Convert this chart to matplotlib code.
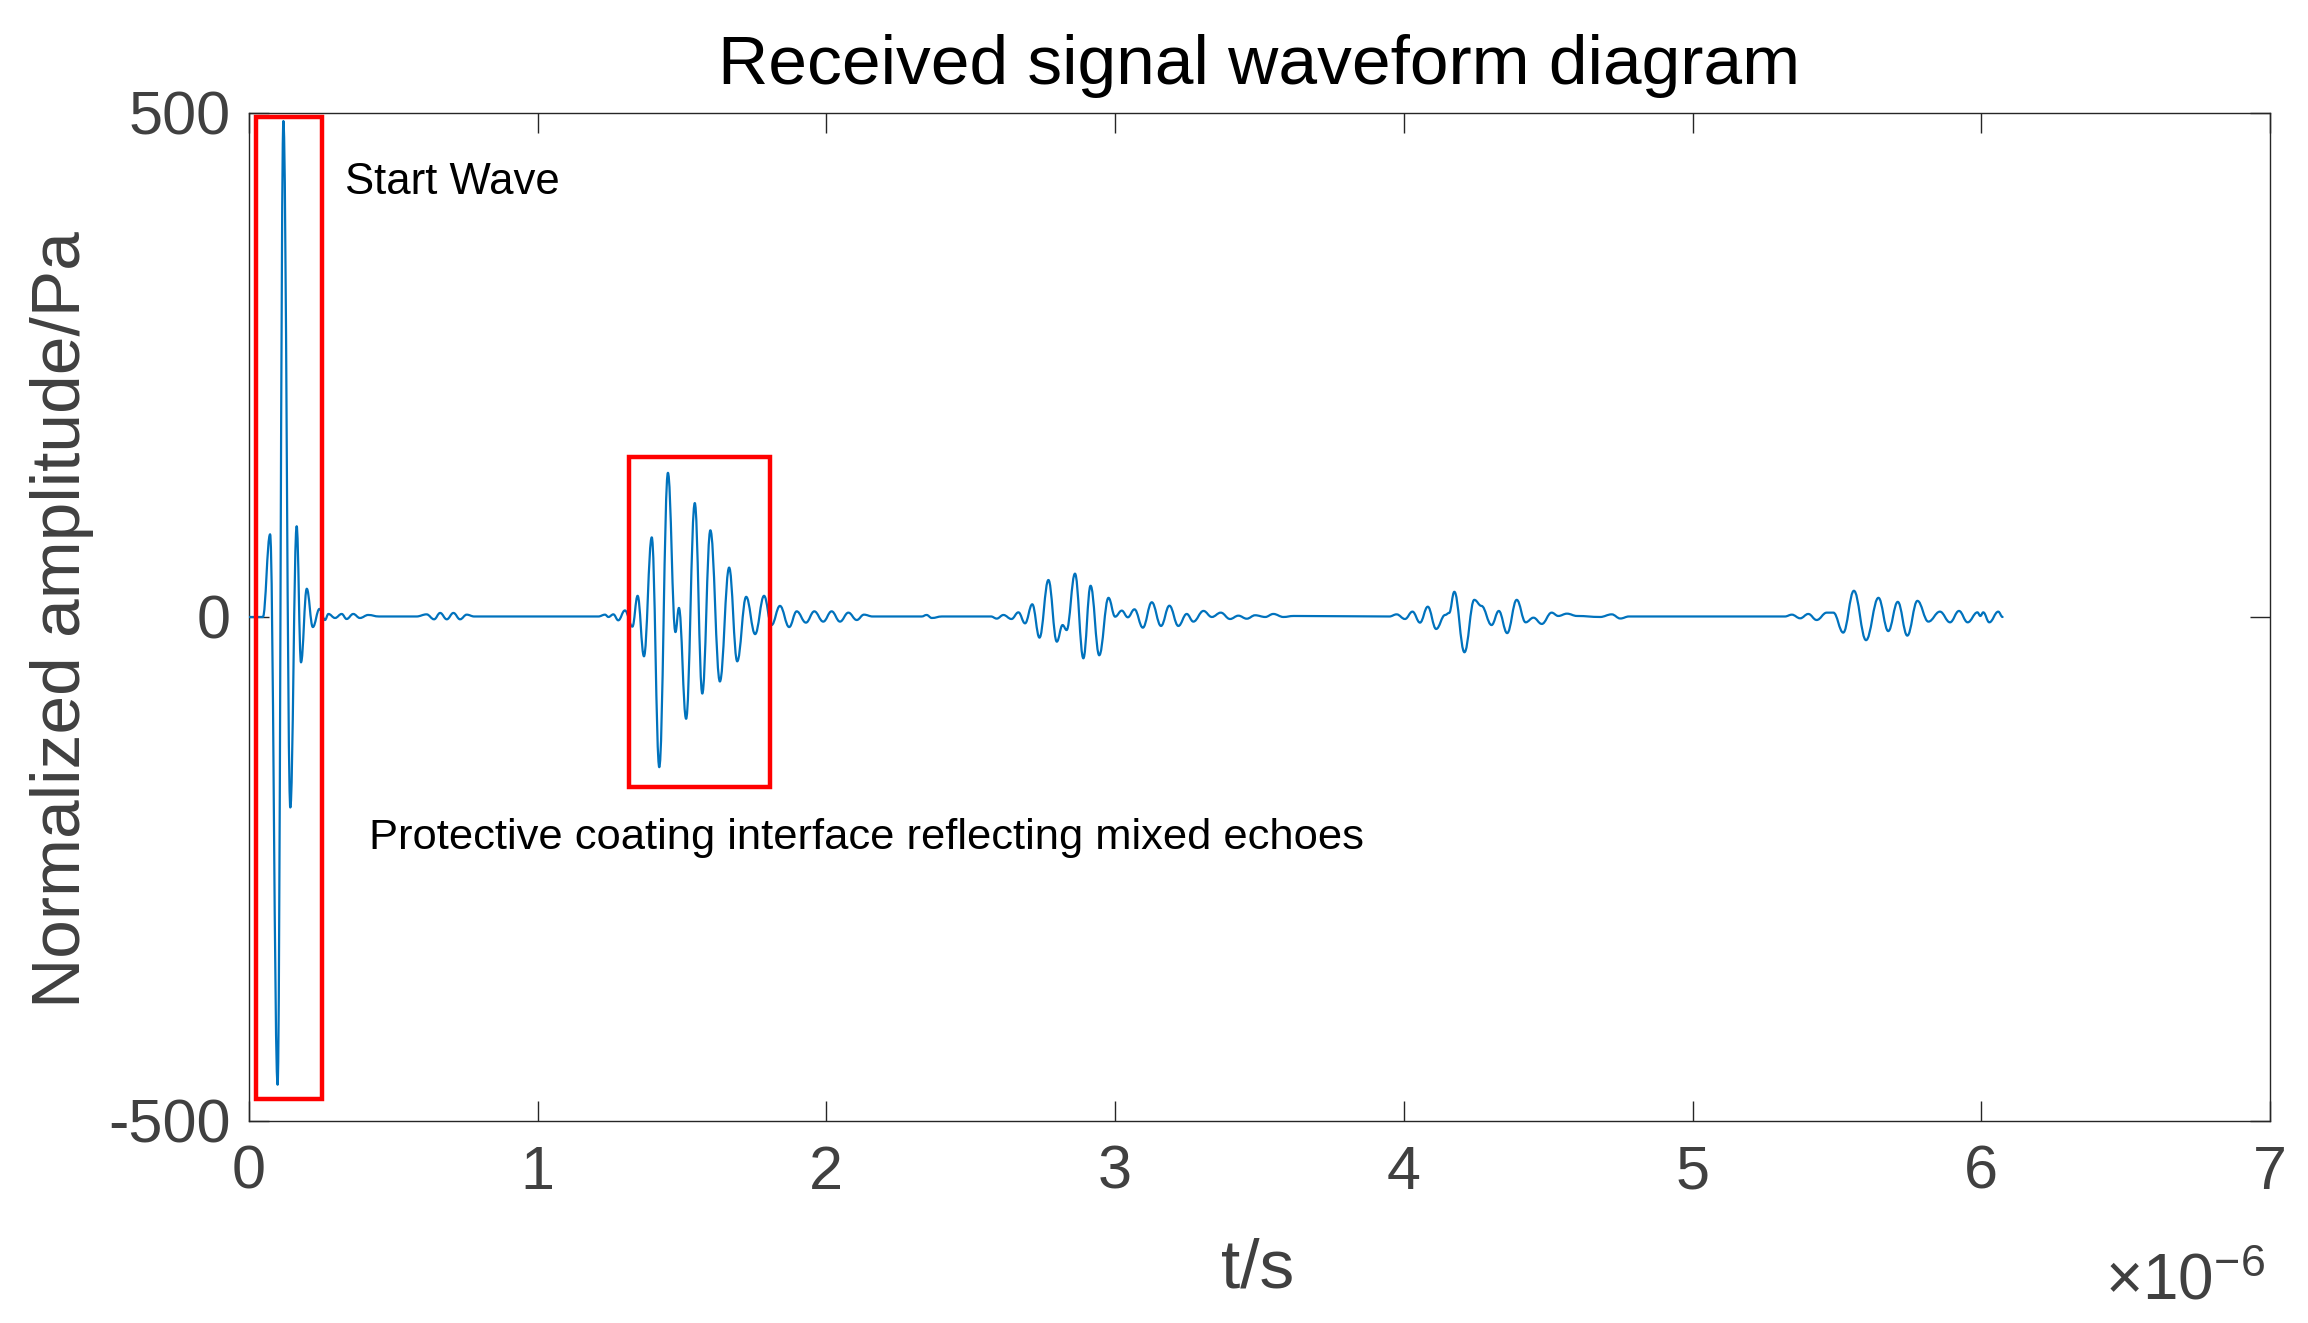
import numpy as np
import matplotlib
matplotlib.use("Agg")
import matplotlib.pyplot as plt
from matplotlib.patches import Rectangle, PathPatch
from matplotlib.path import Path

plt.rcParams["font.family"] = ["Liberation Sans", "DejaVu Sans"]
plt.rcParams["mathtext.fontset"] = "custom"
plt.rcParams["mathtext.rm"] = "Liberation Sans"
plt.rcParams["mathtext.it"] = "Liberation Sans"

# waveform extrema (time in microseconds, amplitude in Pa)
t_us = [
    0.000, 0.048, 0.073, 0.099, 0.119, 0.143, 0.165, 0.180, 0.200, 0.221,
    0.244, 0.263, 0.275, 0.298, 0.321, 0.338, 0.361, 0.384, 0.413, 0.450,
    0.580, 0.615, 0.641, 0.662, 0.685, 0.708, 0.731, 0.754, 0.780, 1.210,
    1.233, 1.245, 1.262, 1.279, 1.302, 1.328, 1.346, 1.368, 1.395, 1.421,
    1.451, 1.477, 1.489, 1.514, 1.544, 1.570, 1.598, 1.631, 1.663, 1.691,
    1.722, 1.753, 1.784, 1.810, 1.839, 1.871, 1.897, 1.929, 1.958, 1.989,
    2.018, 2.047, 2.076, 2.105, 2.130, 2.160, 2.330, 2.347, 2.365, 2.400,
    2.570, 2.590, 2.613, 2.641, 2.665, 2.688, 2.713, 2.738, 2.769, 2.798,
    2.818, 2.832, 2.861, 2.890, 2.915, 2.945, 2.977, 3.000, 3.023, 3.044,
    3.067, 3.096, 3.127, 3.159, 3.188, 3.219, 3.248, 3.271, 3.306, 3.335,
    3.366, 3.398, 3.427, 3.456, 3.485, 3.520, 3.548, 3.583, 3.618, 3.950,
    3.975, 4.004, 4.030, 4.056, 4.083, 4.112, 4.143, 4.157, 4.175, 4.210,
    4.244, 4.269, 4.304, 4.329, 4.358, 4.391, 4.422, 4.449, 4.478, 4.512,
    4.535, 4.565, 4.600, 4.680, 4.720, 4.750, 4.780, 5.320, 5.344, 5.373,
    5.401, 5.430, 5.465, 5.488, 5.522, 5.559, 5.601, 5.644, 5.678, 5.711,
    5.744, 5.779, 5.817, 5.857, 5.892, 5.923, 5.953, 5.987, 5.997, 6.007,
    6.028, 6.059, 6.074,
]
amp = [
    0, 0, 82, -464, 492, -189, 90, -45, 28, -10,
    8, -3, 3, -1, 3, -2, 3, -1, 2, 0.5,
    0.5, 2.6, -2.3, 4, -2.3, 4, -2.3, 2.3, 0.5, 0.5,
    2.3, 0, 2.6, -3.3, 6.5, -9.6, 21, -39, 79, -149,
    143, -15, 9, -101, 113, -76, 86, -64, 49, -44,
    20, -17, 21, -8, 11, -10, 5.6, -5.6, 5.6, -4.6,
    5.6, -4.6, 4.3, -3, 2.3, 0.5, 0.5, 2, -1, 0.5,
    0.5, -1.6, 2, -2, 4.6, -6.3, 12.6, -20.5, 36.7, -24.5,
    -8, -13, 43, -41, 31, -38, 19, 0.3, 6.3, -0.3,
    7.6, -10.6, 14.6, -8.9, 11.2, -8.9, 3, -4.6, 6, 0,
    4.3, -2, 1.3, -1.7, 1.7, 0, 3, 0, 1, 0.5,
    2.6, -2, 5.3, -5.6, 10.2, -11.9, 2, 4, 25, -35,
    17, 11, -8, 6, -16, 17, -5.3, -0.7, -6.9, 4.3,
    1, 3.3, 1, 0, 2.6, -1.5, 0.5, 0.5, 2.3, -1.3,
    3, -3, 4.3, 4.3, -15.5, 26, -23, 19, -14, 15,
    -18.5, 16, -4.6, 5.3, -5.3, 6, -5.3, 4.6, 1, 4.6,
    -5.3, 5.3, 0,
]

# highlighted regions: (t start, t end) in microseconds and (amp low, amp high)
box_t = [(0.025, 0.253), (1.317, 1.805)]
box_amp = [(-478, 496), (-169, 159)]

x_ticks = [0, 1, 2, 3, 4, 5, 6, 7]
y_ticks = [-500, 0, 500]

BLUE = "#0072BD"
AXC = "#262626"
TICKC = "#404040"

fig = plt.figure(figsize=(23.08, 13.23), dpi=100)
ax = fig.add_axes([0.1079, 0.1527, 0.8756, 0.7619])

# draw the trace as smooth cubic segments between the read extrema
t = np.array(t_us) * 1e-6
a = np.array(amp, dtype=float)
verts = [(t[0], a[0])]
codes = [Path.MOVETO]
for i in range(len(t) - 1):
    dt = t[i + 1] - t[i]
    verts += [(t[i] + 0.4 * dt, a[i]), (t[i + 1] - 0.4 * dt, a[i + 1]), (t[i + 1], a[i + 1])]
    codes += [Path.CURVE4] * 3
ax.add_patch(PathPatch(Path(verts, codes), fill=False, edgecolor=BLUE, lw=1.6,
                       capstyle="round", joinstyle="round", zorder=3))

for (t0, t1), (a0, a1) in zip(box_t, box_amp):
    ax.add_patch(Rectangle((t0 * 1e-6, a0), (t1 - t0) * 1e-6, a1 - a0,
                           fill=False, edgecolor="#FF0000", lw=3.2, zorder=4))

ax.set_xlim(0, 7e-6)
ax.set_ylim(-500, 500)
ax.set_xticks([k * 1e-6 for k in x_ticks])
ax.set_xticklabels([str(k) for k in x_ticks])
ax.set_yticks(y_ticks)
ax.set_yticklabels([str(v) for v in y_ticks])
ax.tick_params(direction="in", length=14.4, width=1.0, color=AXC,
               labelsize=44, labelcolor=TICKC, top=True, right=True)
ax.tick_params(axis="x", pad=17)
ax.tick_params(axis="y", pad=13)
for s in ax.spines.values():
    s.set_color(AXC)
    s.set_linewidth(1.0)

ax.set_title("Received signal waveform diagram", fontsize=50, color="black", pad=21)

fig.text(62 / 2308, 1 - 620 / 1323, "Normalized amplitude/Pa", rotation=90,
         ha="center", va="center", fontsize=50, color=TICKC)
fig.text(1258 / 2308, 1 - 1288 / 1323, "t/s", ha="center", va="baseline",
         fontsize=50, color=TICKC)
fig.text(2265 / 2308, 1 - 1300 / 1323, r"$\times10^{-6}$", ha="right", va="baseline",
         fontsize=46, color=TICKC)

ax.text(0.0475, 0.9196, "Start Wave", transform=ax.transAxes,
        ha="left", va="baseline", fontsize=31.5, color="black")
ax.text(0.0594, 0.2698, "Protective coating interface reflecting mixed echoes",
        transform=ax.transAxes, ha="left", va="baseline", fontsize=31.3, color="black")

fig.savefig("out.png", dpi=100)
